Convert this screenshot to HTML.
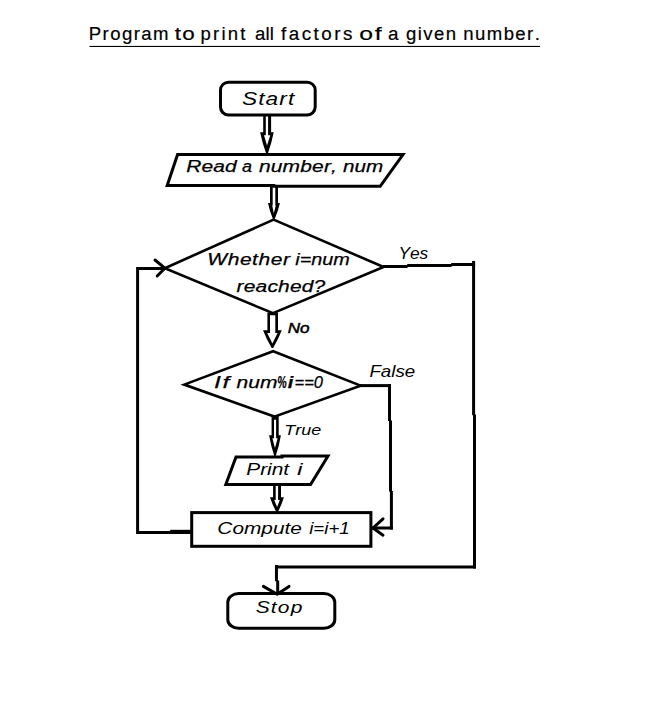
<!DOCTYPE html>
<html lang="en">
<head>
<meta charset="utf-8">
<title>Program to print all factors of a given number</title>
<style>
  html, body { margin: 0; padding: 0; background: #ffffff; }
  body { width: 661px; height: 726px; overflow: hidden; }
  svg { display: block; }
  .ln { fill: none; stroke: #000; stroke-width: 3.0; stroke-linejoin: miter; stroke-linecap: butt; }
  .rc { fill: none; stroke: #000; stroke-width: 3.0; stroke-linejoin: round; stroke-linecap: round; }
  .dg { stroke-width: 2.6; }
  .box { fill: none; stroke: #000; stroke-width: 3.0; }
  text { font-family: "Liberation Sans", sans-serif; fill: #000; font-kerning: none; }
  .title { font-style: normal; stroke: #000; stroke-width: 0.2px; }
  .lbl { font-style: italic; }
  .hv { stroke: #000; stroke-width: 0.25px; }
  .sm { font-style: italic; }
</style>
</head>
<body>
<svg width="661" height="726" viewBox="0 0 661 726">
  <rect x="0" y="0" width="661" height="726" fill="#ffffff"/>
  <g id="title">
    <text class="title" y="40.0" font-size="18">
      <tspan x="88.78" textLength="81.18" lengthAdjust="spacingAndGlyphs" letter-spacing="1.4">Program</tspan> <tspan x="174.66" textLength="21.67" lengthAdjust="spacingAndGlyphs" letter-spacing="1.2">to</tspan> <tspan x="200.50" textLength="47.15" lengthAdjust="spacingAndGlyphs" letter-spacing="2.15">print</tspan> <tspan x="254.91" textLength="19.27" lengthAdjust="spacingAndGlyphs" letter-spacing="0.23">all</tspan> <tspan x="280.93" textLength="74.06" lengthAdjust="spacingAndGlyphs" letter-spacing="2.4">factors</tspan> <tspan x="359.26" textLength="23.95" lengthAdjust="spacingAndGlyphs" letter-spacing="1.2">of</tspan> <tspan x="388.10" textLength="10.50" lengthAdjust="spacingAndGlyphs">a</tspan> <tspan x="406.12" textLength="51.39" lengthAdjust="spacingAndGlyphs" letter-spacing="1.37">given</tspan> <tspan x="463.37" textLength="77.83" lengthAdjust="spacingAndGlyphs" letter-spacing="1.36">number.</tspan>
    </text>
    <rect x="89.5" y="45.9" width="450.6" height="1.1" fill="#000"/>
  </g>
  <g id="connectors">
    <!-- yes path: diamond 1 right vertex, down the right side, back to Stop -->
    <path class="ln" d="M383 266.6 H407.6 M407.2 265.5 H451.6 M451.2 264.45 H475.1"/>
    <path class="ln" d="M473.6 261 V415.2 M474.5 414.6 V568.6"/>
    <path class="ln" d="M476 567.1 H275"/>
    <path class="ln" d="M276.45 565 V581.2 M277.7 580.6 V594"/>
    <path class="rc" d="M263.4 586.4 L277.2 594.2 L289 586.4"/>
    <!-- loop back from compute to diamond 1 -->
    <path class="ln" d="M191 532.4 H137.6 V268.5 H165"/>
    <rect x="170.2" y="529.8" width="21" height="1.4" fill="#000"/>
    <path class="rc" d="M155 260 L164.9 268.2 L157.2 276"/>
    <!-- false path -->
    <path class="ln" d="M359.5 385.6 H390.6"/>
    <path class="ln" d="M389.5 384.1 V421 M390.5 420.6 V491.5 M391.4 491.1 V529.5"/>
    <path class="ln" d="M392.9 528 H372"/>
    <path class="rc" d="M383 518.8 L373 528 L383 535.2"/>
  </g>
  <g id="arrows">
    <path d="M263.2 115 L271.1 115 L271.1 132.3 L273.7 132.3 Q271.65 143.15 267.7 154.0 L266.30 154.0 Q262.25 143.15 260.1 132.3 L263.2 132.3 Z" fill="#000"/>
    <path d="M265.8 115 L268.1 115 L268.1 135.2 L270.3 135.2 L267.0 145.4 L264.0 135.2 L265.8 135.2 Z" fill="#fff"/>
    <path d="M270.0 186 L278.0 186 L278.0 203.0 L279.9 203.0 Q278.15 211.25 274.5 219.5 L273.10 219.5 Q269.60 211.25 268.0 203.0 L270.0 203.0 Z" fill="#000"/>
    <path d="M272.7 186 L275.3 186 L275.3 205.6 L275.8 205.6 L273.8 213.2 L272.2 205.6 L272.7 205.6 Z" fill="#fff"/>
    <path d="M267.4 312.6 L278.0 312.6 L278.0 330.3 L281.8 330.3 Q278.40 339.15 273.09999999999997 348.0 L271.70 348.0 Q266.40 339.15 263.0 330.3 L267.4 330.3 Z" fill="#000"/>
    <path d="M270.0 315.2 L275.3 315.2 L275.3 333.0 L277.6 333.0 L272.4 343.6 L267.2 333.0 L270.0 333.0 Z" fill="#fff"/>
    <path d="M271.6 416 L278.7 416 L278.7 435.3 L280.9 435.3 Q279.25 445.65 275.7 456.0 L274.30 456.0 Q270.75 445.65 269.1 435.3 L271.6 435.3 Z" fill="#000"/>
    <path d="M274.0 419.8 L276.1 419.8 L276.1 438.2 L277.6 438.2 L275.0 448.0 L272.4 438.2 L274.0 438.2 Z" fill="#fff"/>
    <path d="M273.1 484 L281.0 484 L281.0 497.3 L283.9 497.3 Q281.80 504.65 277.8 512.0 L276.40 512.0 Q272.25 504.65 270.0 497.3 L273.1 497.3 Z" fill="#000"/>
    <path d="M275.7 484 L278.1 484 L278.1 500.0 L279.8 500.0 L277.1 507.0 L274.2 500.0 L275.7 500.0 Z" fill="#fff"/>
  </g>
  <g id="shapes">
    <rect class="box" x="220.5" y="82.2" width="94.7" height="32.8" rx="8" ry="8"/>
    <path class="ln" d="M177.6 154.5 L403 154.5 L380.2 186.3 L273.8 186.3 L273.8 185.4 L167.2 185.4 Z"/>
    <path class="ln dg" d="M273.6 219.6 L383.6 267 L273 313.2 L164.8 268.2 Z"/>
    <path class="ln dg" d="M273.2 351.2 L360.6 385.6 L274.4 416.6 L184.2 384.6 Z"/>
    <path class="ln" d="M236 457 L282 457 L282 456 L328 456 L310.6 484.5 L225.8 484.5 Z"/>
    <rect class="box" x="191.7" y="512.6" width="179.2" height="33.7"/>
    <rect class="box" x="227.8" y="593.6" width="107" height="34.7" rx="11" ry="8.5"/>
  </g>
  <g id="labels">
    <text class="lbl" y="105.2" font-size="18.6">
      <tspan x="242.06" textLength="53.22" lengthAdjust="spacingAndGlyphs" letter-spacing="0.87">Start</tspan>
    </text>
    <text class="lbl hv" y="172.4" font-size="17.2">
      <tspan x="186.25" textLength="50.47" lengthAdjust="spacingAndGlyphs" letter-spacing="0.06">Read</tspan> <tspan x="242.00" textLength="10.02" lengthAdjust="spacingAndGlyphs">a</tspan> <tspan x="258.95" textLength="78.16" lengthAdjust="spacingAndGlyphs" letter-spacing="0.14">number,</tspan> <tspan x="342.96" textLength="40.10" lengthAdjust="spacingAndGlyphs">num</tspan>
    </text>
    <text class="lbl hv" y="264.8" font-size="17.2">
      <tspan x="207.29" textLength="83.27" lengthAdjust="spacingAndGlyphs" letter-spacing="0.46">Whether</tspan> <tspan x="295.28" textLength="54.44" lengthAdjust="spacingAndGlyphs">i=num</tspan>
    </text>
    <text class="lbl hv" y="291.6" font-size="17.2">
      <tspan x="236.55" textLength="88.88" lengthAdjust="spacingAndGlyphs" letter-spacing="0.14">reached?</tspan>
    </text>
    <text class="sm" y="258.6" font-size="16.5">
      <tspan x="398.40" textLength="29.86" lengthAdjust="spacingAndGlyphs">Yes</tspan>
    </text>
    <text class="sm" y="333.4" font-size="15.2" stroke="#000" stroke-width="0.5">
      <tspan x="287.77" textLength="21.87" lengthAdjust="spacingAndGlyphs">No</tspan>
    </text>
    <text class="lbl hv" y="387.5" font-size="17.2">
      <tspan x="214.02" textLength="17.17" lengthAdjust="spacingAndGlyphs" letter-spacing="1.2">If</tspan> <tspan x="236.45" textLength="41.27" lengthAdjust="spacingAndGlyphs" letter-spacing="0.12">num</tspan><tspan x="277.25" textLength="9.41" lengthAdjust="spacingAndGlyphs" font-weight="bold">%</tspan><tspan x="287.75" textLength="5.54" lengthAdjust="spacingAndGlyphs" font-weight="bold">i</tspan><tspan x="294.55" textLength="28.49" lengthAdjust="spacingAndGlyphs">==0</tspan>
    </text>
    <text class="sm" y="377.1" font-size="15.7">
      <tspan x="369.42" textLength="45.77" lengthAdjust="spacingAndGlyphs">False</tspan>
    </text>
    <text class="sm" y="434.6" font-size="15.4">
      <tspan x="284.18" textLength="36.98" lengthAdjust="spacingAndGlyphs">True</tspan>
    </text>
    <text class="lbl" y="474.5" font-size="17.2">
      <tspan x="246.26" textLength="42.92" lengthAdjust="spacingAndGlyphs">Print</tspan> <tspan x="297.10" textLength="5.54" lengthAdjust="spacingAndGlyphs">i</tspan>
    </text>
    <text class="lbl" y="534.0" font-size="17.2">
      <tspan x="217.35" textLength="84.62" lengthAdjust="spacingAndGlyphs">Compute</tspan> <tspan x="309.20" textLength="40.58" lengthAdjust="spacingAndGlyphs">i=i+1</tspan>
    </text>
    <text class="lbl" y="612.8" font-size="17.2">
      <tspan x="255.71" textLength="47.84" lengthAdjust="spacingAndGlyphs" letter-spacing="0.96">Stop</tspan>
    </text>
  </g>
</svg>
</body>
</html>
